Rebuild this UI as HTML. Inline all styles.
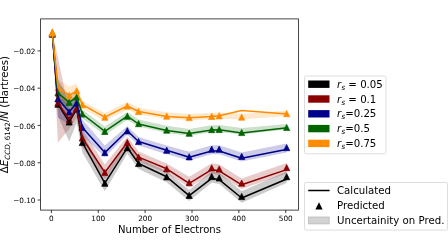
<!DOCTYPE html>
<html><head><meta charset="utf-8"><title>chart</title>
<style>html,body{margin:0;padding:0;background:#fff;width:448px;height:252px;overflow:hidden}svg{display:block}</style></head>
<body>
<svg width="448" height="252" viewBox="0 0 448 252" style="position:absolute;left:0;top:0">
<rect x="0" y="0" width="448" height="252" fill="#fff"/>
<clipPath id="ax"><rect x="40.6" y="18.9" width="257.79999999999995" height="191.2"/></clipPath>
<g clip-path="url(#ax)">
<polygon fill="#000000" fill-opacity="0.2" points="52.32,33.1 57.94,93.2 69.19,104 76.69,95 82.32,132.5 104.82,175.2 127.31,141.8 138.56,158 166.69,171.3 189.19,189.9 211.69,171.2 219.19,172.6 241.68,191.2 286.68,171.4 286.68,182.9 241.68,202.7 219.19,184.1 211.69,182.7 189.19,200.9 166.69,182.3 138.56,169 127.31,153.8 104.82,191.2 82.32,152.5 76.69,123 69.19,141.5 57.94,116.2 52.32,35.1"/>
<polygon fill="#8b0000" fill-opacity="0.2" points="52.32,32.3 57.94,57.9 69.19,111 76.69,98 82.32,129 104.82,164.5 127.31,136.4 138.56,151.6 166.69,163.6 189.19,176.7 211.69,163.2 219.19,164.3 241.68,178.4 286.68,162.9 286.68,173.6 241.68,189.1 219.19,175 211.69,173.9 189.19,187.2 166.69,173.3 138.56,161.6 127.31,147.4 104.82,179.3 82.32,147 76.69,118 69.19,129 57.94,142.5 52.32,34.3"/>
<polygon fill="#00008b" fill-opacity="0.2" points="52.32,32.6 57.94,78.8 69.19,100 76.69,95 82.32,119.5 104.82,145.6 127.31,126.1 138.56,136.9 166.69,145.6 189.19,151.8 211.69,145.2 219.19,145.2 241.68,152.4 286.68,143.6 286.68,152.6 241.68,161.4 219.19,154.2 211.69,154.2 189.19,160.6 166.69,154.2 138.56,145.4 127.31,134.8 104.82,157.1 82.32,135.5 76.69,111 69.19,124 57.94,117.8 52.32,34.6"/>
<polygon fill="#006400" fill-opacity="0.2" points="52.32,32 57.94,82.9 69.19,94.3 76.69,91 82.32,109.4 104.82,126.4 127.31,112 138.56,119.4 166.69,125.7 189.19,128.9 211.69,125.3 219.19,125.1 241.68,128.1 286.68,123.9 286.68,129.5 241.68,134.5 219.19,132 211.69,132.2 189.19,135.8 166.69,132.9 138.56,126.6 127.31,120 104.82,135 82.32,118.6 76.69,103 69.19,110.3 57.94,102.9 52.32,34"/>
<polygon fill="#ff8c00" fill-opacity="0.2" points="52.32,32 57.94,79.8 69.19,86.4 76.69,83.8 82.32,100.7 104.82,113 127.31,102 138.56,107.7 166.69,112.3 189.19,113.9 211.69,113 219.19,112.4 241.68,113.7 286.68,110.7 286.68,116.1 241.68,119.5 219.19,118.6 211.69,119.2 189.19,120.3 166.69,119 138.56,114.5 127.31,109.7 104.82,120.8 82.32,108.7 76.69,97.8 69.19,104.4 57.94,95.8 52.32,34"/>
<path fill="#000000" stroke="#000000" stroke-width="0.7" stroke-linejoin="miter" d="M52.32 31L49.22 37.2L55.42 37.2ZM57.94 101.1L54.84 107.3L61.04 107.3ZM69.19 118.9L66.09 125.1L72.29 125.1ZM76.69 105.9L73.59 112.1L79.79 112.1ZM82.32 139.4L79.22 145.6L85.42 145.6ZM104.82 180.1L101.72 186.3L107.92 186.3ZM127.31 144.7L124.21 150.9L130.41 150.9ZM138.56 160.4L135.46 166.6L141.66 166.6ZM166.69 173.7L163.59 179.9L169.79 179.9ZM189.19 192.3L186.09 198.5L192.29 198.5ZM211.69 173.4L208.59 179.6L214.79 179.6ZM219.19 174.8L216.09 181L222.29 181ZM241.68 193.4L238.58 199.6L244.78 199.6ZM286.68 173.6L283.58 179.8L289.78 179.8Z"/>
<path fill="#8b0000" stroke="#8b0000" stroke-width="0.7" stroke-linejoin="miter" d="M52.32 30.2L49.22 36.4L55.42 36.4ZM57.94 99.8L54.84 106L61.04 106ZM69.19 116.4L66.09 122.6L72.29 122.6ZM76.69 104.9L73.59 111.1L79.79 111.1ZM82.32 134.9L79.22 141.1L85.42 141.1ZM104.82 169.4L101.72 175.6L107.92 175.6ZM127.31 139.3L124.21 145.5L130.41 145.5ZM138.56 154L135.46 160.2L141.66 160.2ZM166.69 165.7L163.59 171.9L169.79 171.9ZM189.19 179.6L186.09 185.8L192.29 185.8ZM211.69 164.8L208.59 171L214.79 171ZM219.19 165.9L216.09 172.1L222.29 172.1ZM241.68 180L238.58 186.2L244.78 186.2ZM286.68 164.5L283.58 170.7L289.78 170.7Z"/>
<path fill="#00008b" stroke="#00008b" stroke-width="0.7" stroke-linejoin="miter" d="M52.32 30.5L49.22 36.7L55.42 36.7ZM57.94 95.7L54.84 101.9L61.04 101.9ZM69.19 108.9L66.09 115.1L72.29 115.1ZM76.69 99.9L73.59 106.1L79.79 106.1ZM82.32 124.4L79.22 130.6L85.42 130.6ZM104.82 149.5L101.72 155.7L107.92 155.7ZM127.31 127.7L124.21 133.9L130.41 133.9ZM138.56 138.4L135.46 144.6L141.66 144.6ZM166.69 147.1L163.59 153.3L169.79 153.3ZM189.19 153.7L186.09 159.9L192.29 159.9ZM211.69 146.1L208.59 152.3L214.79 152.3ZM219.19 146.1L216.09 152.3L222.29 152.3ZM241.68 153.3L238.58 159.5L244.78 159.5ZM286.68 144.5L283.58 150.7L289.78 150.7Z"/>
<path fill="#006400" stroke="#006400" stroke-width="0.7" stroke-linejoin="miter" d="M52.32 29.9L49.22 36.1L55.42 36.1ZM57.94 89.8L54.84 96L61.04 96ZM69.19 99.2L66.09 105.4L72.29 105.4ZM76.69 93.9L73.59 100.1L79.79 100.1ZM82.32 110.9L79.22 117.1L85.42 117.1ZM104.82 128.3L101.72 134.5L107.92 134.5ZM127.31 113.1L124.21 119.3L130.41 119.3ZM138.56 120.5L135.46 126.7L141.66 126.7ZM166.69 127L163.59 133.2L169.79 133.2ZM189.19 130.1L186.09 136.3L192.29 136.3ZM211.69 126.5L208.59 132.7L214.79 132.7ZM219.19 126.3L216.09 132.5L222.29 132.5ZM241.68 129.4L238.58 135.6L244.78 135.6ZM286.68 124.4L283.58 130.6L289.78 130.6Z"/>
<path fill="#ff8c00" stroke="#ff8c00" stroke-width="0.7" stroke-linejoin="miter" d="M52.32 29.9L49.22 36.1L55.42 36.1ZM57.94 84.7L54.84 90.9L61.04 90.9ZM69.19 92.3L66.09 98.5L72.29 98.5ZM76.69 87.7L73.59 93.9L79.79 93.9ZM82.32 101.6L79.22 107.8L85.42 107.8ZM104.82 114.1L101.72 120.3L107.92 120.3ZM127.31 102.9L124.21 109.1L130.41 109.1ZM138.56 108.4L135.46 114.6L141.66 114.6ZM166.69 113L163.59 119.2L169.79 119.2ZM189.19 114.4L186.09 120.6L192.29 120.6ZM211.69 113.3L208.59 119.5L214.79 119.5ZM219.19 112.7L216.09 118.9L222.29 118.9ZM241.68 114L238.58 120.2L244.78 120.2ZM286.68 110.5L283.58 116.7L289.78 116.7Z"/>
<polyline fill="none" stroke="#000000" stroke-width="1.5" stroke-linejoin="round" stroke-linecap="square" points="52.32,33.5 57.94,104.2 69.19,122 76.69,109 82.32,142.5 104.82,183.2 127.31,147.8 138.56,163.5 166.69,176.8 189.19,195.6 211.69,178.3 219.19,179.7 241.68,198 286.68,179.1"/>
<polyline fill="none" stroke="#8b0000" stroke-width="1.5" stroke-linejoin="round" stroke-linecap="square" points="52.32,33.3 57.94,102.9 69.19,119.5 76.69,108 82.32,138 104.82,172.5 127.31,142.4 138.56,157.1 166.69,168.8 189.19,183.3 211.69,169.7 219.19,170.8 241.68,184.8 286.68,169.6"/>
<polyline fill="none" stroke="#00008b" stroke-width="1.5" stroke-linejoin="round" stroke-linecap="square" points="52.32,33.3 57.94,98.8 69.19,112 76.69,103 82.32,127.5 104.82,152.6 127.31,130.8 138.56,141.5 166.69,150.2 189.19,157.3 211.69,151 219.19,151 241.68,158.3 286.68,149.3"/>
<polyline fill="none" stroke="#006400" stroke-width="1.5" stroke-linejoin="round" stroke-linecap="square" points="52.32,33 57.94,92.9 69.19,102.3 76.69,97 82.32,114 104.82,131.4 127.31,116.2 138.56,124 166.69,130.5 189.19,133.6 211.69,130 219.19,129.8 241.68,132.9 286.68,127.9"/>
<polyline fill="none" stroke="#ff8c00" stroke-width="1.5" stroke-linejoin="round" stroke-linecap="square" points="52.32,33 57.94,87.8 69.19,95.4 76.69,90.8 82.32,104.7 104.82,117.2 127.31,106 138.56,111.5 166.69,116.5 189.19,117.8 211.69,116.4 219.19,115.8 241.68,110.4 286.68,113.9"/>
<path fill="#ff8c00" stroke="#ff8c00" stroke-width="0.7" stroke-linejoin="miter" d="M52.32 28.85L48.87 36.05L55.77 36.05Z"/>
</g>
<rect x="40.6" y="18.9" width="257.79999999999995" height="191.2" fill="none" stroke="#1a1a1a" stroke-width="0.8"/>
<path d="M51.38 210.1v3M98.25 210.1v3M145.13 210.1v3M192 210.1v3M238.87 210.1v3M285.74 210.1v3M40.6 50.9h-3M40.6 88.17h-3M40.6 125.45h-3M40.6 162.72h-3M40.6 200h-3" stroke="#000" stroke-width="0.75" fill="none"/>
<g font-family="DejaVu Sans, Liberation Sans, sans-serif" font-size="7.3" fill="#000">
<text x="51.38" y="221.4" text-anchor="middle">0</text>
<text x="98.25" y="221.4" text-anchor="middle">100</text>
<text x="145.13" y="221.4" text-anchor="middle">200</text>
<text x="192" y="221.4" text-anchor="middle">300</text>
<text x="238.87" y="221.4" text-anchor="middle">400</text>
<text x="285.74" y="221.4" text-anchor="middle">500</text>
<text x="35.5" y="54" text-anchor="end">−0.02</text>
<text x="35.5" y="91.27" text-anchor="end">−0.04</text>
<text x="35.5" y="128.55" text-anchor="end">−0.06</text>
<text x="35.5" y="165.82" text-anchor="end">−0.08</text>
<text x="35.5" y="203.1" text-anchor="end">−0.10</text>
</g>
<text font-family="DejaVu Sans, Liberation Sans, sans-serif" font-size="10.05" x="169.5" y="233.1" text-anchor="middle">Number of Electrons</text>
<text font-family="DejaVu Sans, Liberation Sans, sans-serif" font-size="10.2" transform="translate(8.3 114.6) rotate(-90)" text-anchor="middle">Δ<tspan font-style="italic">E</tspan><tspan font-size="7.2" dy="1.7"><tspan font-style="italic">CCD</tspan>,<tspan dx="1.6">6142</tspan></tspan><tspan dy="-1.7">/</tspan><tspan font-style="italic">N</tspan> (Hartrees)</text>
<rect x="304.5" y="76" width="81.5" height="77.8" rx="1.5" fill="#fff" stroke="#d0d0d0" stroke-width="0.7"/>
<rect x="308.2" y="80.5" width="21.3" height="7.4" fill="#000000"/>
<text font-family="DejaVu Sans, Liberation Sans, sans-serif" font-size="10.2" x="337" y="87.8" xml:space="preserve"><tspan font-style="italic">r</tspan><tspan font-size="7.5" dy="1.9" font-style="italic">s</tspan><tspan dy="-1.9"> = 0.05</tspan></text>
<rect x="308.2" y="95.3" width="21.3" height="7.4" fill="#8b0000"/>
<text font-family="DejaVu Sans, Liberation Sans, sans-serif" font-size="10.2" x="337" y="102.6" xml:space="preserve"><tspan font-style="italic">r</tspan><tspan font-size="7.5" dy="1.9" font-style="italic">s</tspan><tspan dy="-1.9"> = 0.1</tspan></text>
<rect x="308.2" y="110.1" width="21.3" height="7.4" fill="#00008b"/>
<text font-family="DejaVu Sans, Liberation Sans, sans-serif" font-size="10.2" x="337" y="117.4" xml:space="preserve"><tspan font-style="italic">r</tspan><tspan font-size="7.5" dy="1.9" font-style="italic">s</tspan><tspan dy="-1.9">=0.25</tspan></text>
<rect x="308.2" y="124.9" width="21.3" height="7.4" fill="#006400"/>
<text font-family="DejaVu Sans, Liberation Sans, sans-serif" font-size="10.2" x="337" y="132.2" xml:space="preserve"><tspan font-style="italic">r</tspan><tspan font-size="7.5" dy="1.9" font-style="italic">s</tspan><tspan dy="-1.9">=0.5</tspan></text>
<rect x="308.2" y="139.7" width="21.3" height="7.4" fill="#ff8c00"/>
<text font-family="DejaVu Sans, Liberation Sans, sans-serif" font-size="10.2" x="337" y="147" xml:space="preserve"><tspan font-style="italic">r</tspan><tspan font-size="7.5" dy="1.9" font-style="italic">s</tspan><tspan dy="-1.9">=0.75</tspan></text>
<rect x="304.5" y="182.5" width="143" height="47.6" rx="1.5" fill="#fff" stroke="#d0d0d0" stroke-width="0.7"/>
<path d="M308.2 190.5H329.6" stroke="#000" stroke-width="1.5"/>
<path d="M319 202.2L315.4 209.4H322.6Z" fill="#000"/>
<rect x="308.6" y="217" width="20.6" height="6.9" fill="#d3d3d3" stroke="#b4b4b4" stroke-width="0.7"/>
<text font-family="DejaVu Sans, Liberation Sans, sans-serif" font-size="10.2" x="337" y="194.2">Calculated</text>
<text font-family="DejaVu Sans, Liberation Sans, sans-serif" font-size="10.2" x="337" y="209">Predicted</text>
<text font-family="DejaVu Sans, Liberation Sans, sans-serif" font-size="10.2" x="337" y="223.9">Uncertainity on Pred.</text>
</svg>
</body></html>
